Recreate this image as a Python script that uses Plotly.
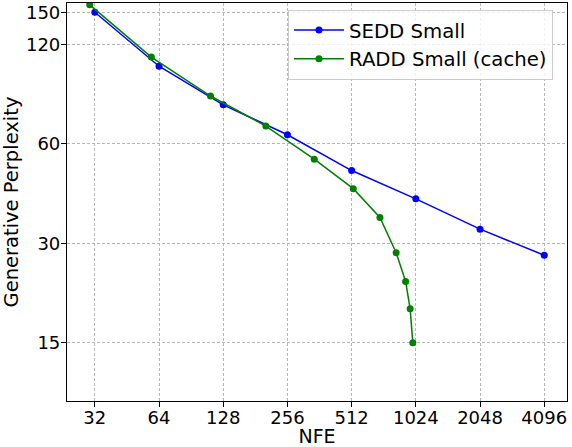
import plotly.graph_objects as go
import math

# Data
sedd_nfe = [32, 64, 128, 256, 512, 1024, 2048, 4096]
sedd_ppl = [150, 103, 78.7, 63.9, 49.8, 40.9, 33.1, 27.6]

radd_nfe = [30.3, 58.9, 111.6, 202.8, 342, 521, 695, 828, 917, 963, 991]
radd_ppl = [158, 109.8, 83.7, 67.9, 53.9, 43.9, 35.9, 28.1, 23.0, 19.0, 15.0]

x_ticks = [32, 64, 128, 256, 512, 1024, 2048, 4096]
y_ticks = [15, 30, 60, 120, 150]

FONT = "DejaVu Sans"

fig = go.Figure()
fig.add_trace(go.Scatter(
    x=sedd_nfe, y=sedd_ppl, mode="lines+markers", name="SEDD Small",
    line=dict(color="#0000ff", width=1.5),
    marker=dict(color="#0000ff", size=7, symbol="circle"),
))
fig.add_trace(go.Scatter(
    x=radd_nfe, y=radd_ppl, mode="lines+markers", name="RADD Small (cache)",
    line=dict(color="#008000", width=1.5),
    marker=dict(color="#008000", size=7, symbol="circle"),
))

axis_common = dict(
    showline=True, linecolor="black", linewidth=1.2, mirror=True,
    ticks="outside", ticklen=5, tickcolor="black", tickwidth=1,
    tickfont=dict(family=FONT, size=18, color="black"),
    zeroline=False, automargin=False,
    showgrid=True, gridcolor="#b8b8b8", gridwidth=0.8, griddash="3px,2px",
)

xmin, xmax = 23.7, 5236
fig.update_xaxes(
    type="log", range=[math.log10(xmin), math.log10(xmax)],
    tickvals=x_ticks, ticktext=[str(v) for v in x_ticks],
    ticklabelstandoff=-5,
    title=dict(text="NFE", font=dict(family=FONT, size=19, color="black"), standoff=6),
    **axis_common,
)
fig.update_yaxes(
    type="log", range=[math.log10(10), math.log10(160)],
    tickvals=y_ticks, ticktext=[str(v) for v in y_ticks],
    ticklabelstandoff=-3,
    title=dict(text="Generative Perplexity", font=dict(family=FONT, size=19.5, color="black"), standoff=10),
    **axis_common,
)

fig.update_layout(
    width=572, height=447,
    margin=dict(l=67, r=5, t=3, b=46),
    paper_bgcolor="white", plot_bgcolor="white",
    font=dict(family=FONT, size=18, color="black"),
    showlegend=True,
    legend=dict(
        x=0.442, y=0.983, xanchor="left", yanchor="top",
        bgcolor="rgba(255,255,255,0.8)", bordercolor="#cccccc", borderwidth=1,
        font=dict(family=FONT, size=19.7, color="black"),
        itemwidth=50,
    ),
)

fig.write_html(
    "out.html",
    config={"displayModeBar": False},
    post_script="document.body.style.margin='0px';document.body.style.overflow='hidden';",
)
